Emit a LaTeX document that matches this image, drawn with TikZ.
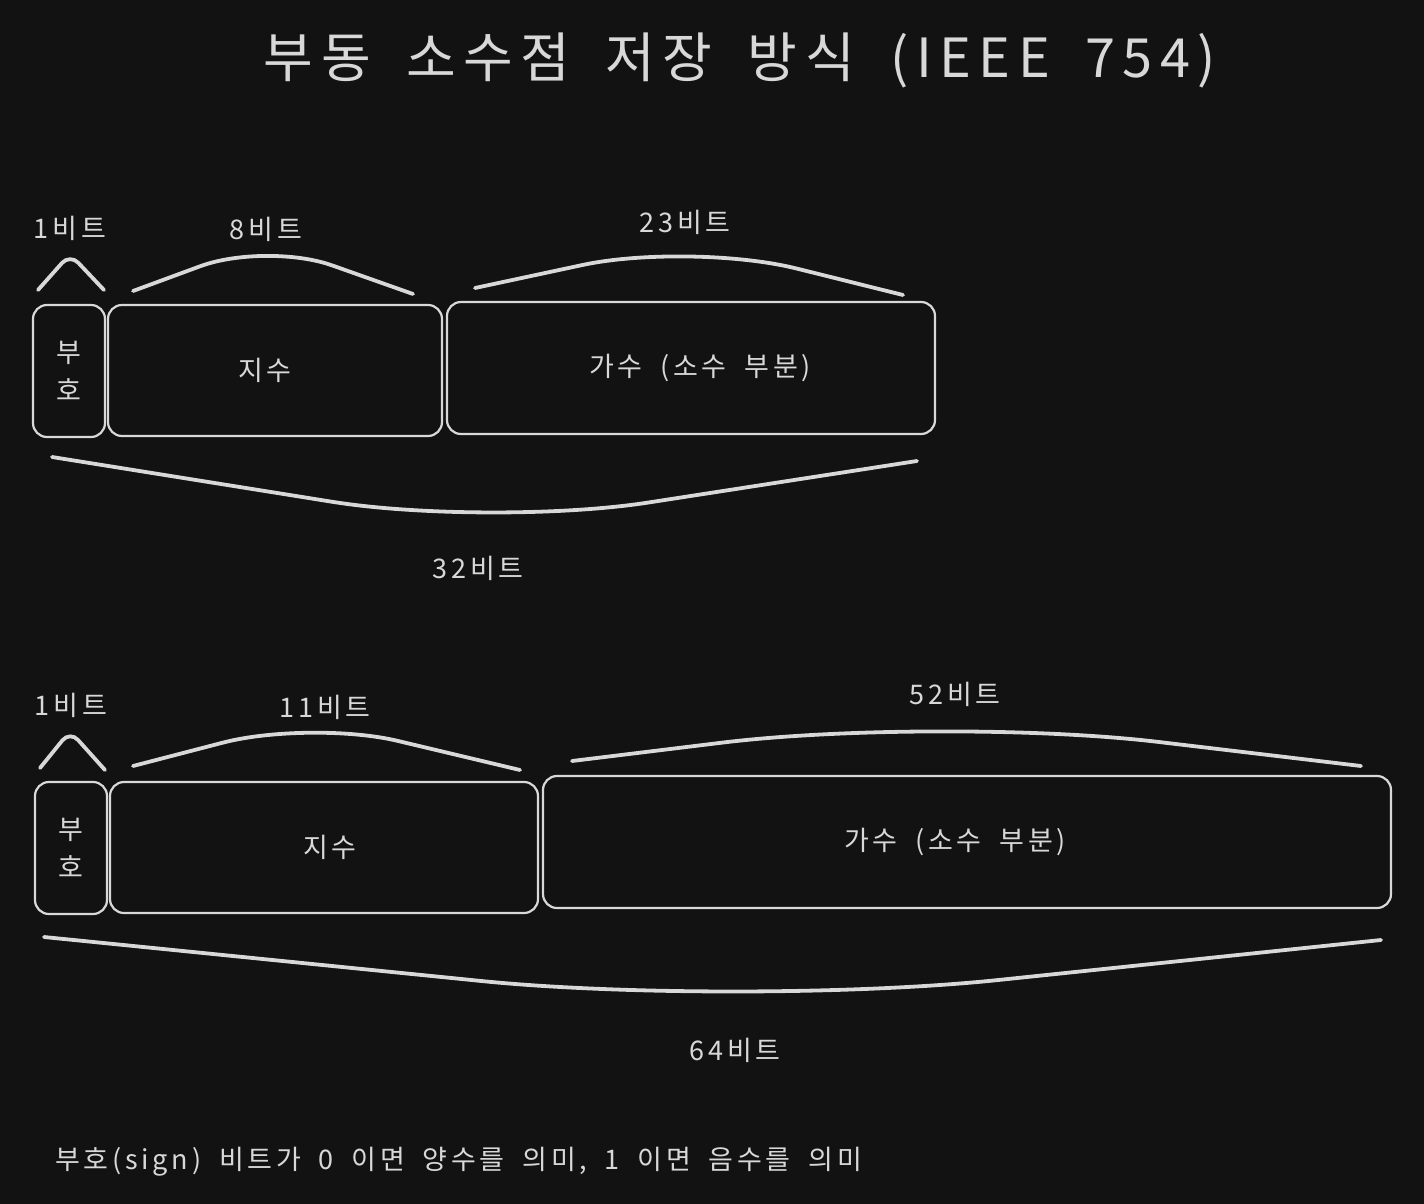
\documentclass[tikz,border=0pt]{standalone}
\usepackage{fontspec}
\setmainfont{Noto Sans CJK KR}[LetterSpace=14,WordSpace=1.8]
\definecolor{bg}{HTML}{121212}
\definecolor{ink}{HTML}{D8D8D8}
\begin{document}
\begin{tikzpicture}[x=1pt,y=-1pt,
  box/.style={draw=ink, line width=2.2pt, rounded corners=14pt, text=ink, font=\fontsize{27}{38}\selectfont, inner sep=0pt, align=center},
  brace/.style={draw=ink, line width=3.8pt, line cap=round, line join=round},
  lbl/.style={text=ink, font=\fontsize{27}{30}\selectfont, inner sep=0pt},
]
\fill[bg] (0,0) rectangle (1424,1204);
\useasboundingbox (0,0) rectangle (1424,1204);
\node[lbl, font=\fontsize{54}{60}\selectfont] (title) at (740,60) {부동 소수점 저장 방식 (IEEE 754)};

% 32-bit
\node[box, minimum width=72pt, minimum height=132pt] (s32) at (69,371) {부\\호};
\node[box, minimum width=334pt, minimum height=131pt] (e32) at (275,370.5) {\hspace*{-20pt}지수};
\node[box, minimum width=488pt, minimum height=132pt] (m32) at (691,368) {\hspace*{18pt}가수 (소수 부분)};
\draw[brace, rounded corners=12pt] (38,290) -- (70,254) -- (104,290);
\draw[brace, rounded corners=70pt] (133,291) -- (266,242) -- (413,294);
\draw[brace, rounded corners=110pt] (475,288) -- (690,242) -- (903,295);
\draw[brace, rounded corners=160pt] (52,457) -- (490,527) -- (917,461);
\node[lbl] (l1a) at (70,228) {1비트};
\node[lbl] (l8) at (266,229) {8비트};
\node[lbl] (l23) at (685,222) {23비트};
\node[lbl] (l32) at (478,568) {32비트};

% 64-bit
\node[box, minimum width=72pt, minimum height=132pt] (s64) at (71,848) {부\\호};
\node[box, minimum width=428pt, minimum height=131pt] (e64) at (324,847.5) {\hspace*{12pt}지수};
\node[box, minimum width=848pt, minimum height=132pt] (m64) at (967,842) {\hspace*{-24pt}가수 (소수 부분)};
\draw[brace, rounded corners=12pt] (40,768) -- (70,731) -- (105,770);
\draw[brace, rounded corners=90pt] (133,766) -- (310,720) -- (520,770);
\draw[brace, rounded corners=220pt] (572,761) -- (940,716) -- (1361,766);
\draw[brace, rounded corners=260pt] (44,937) -- (740,1007) -- (1381,940);
\node[lbl] (l1b) at (71,705) {1비트};
\node[lbl] (l11) at (325,707) {11비트};
\node[lbl] (l52) at (955,694) {52비트};
\node[lbl] (l64) at (735,1050) {64비트};

\node[lbl, anchor=west] (note) at (55,1162) {부호(sign) 비트가 0 이면 양수를 의미, 1 이면 음수를 의미};
\end{tikzpicture}
\end{document}
